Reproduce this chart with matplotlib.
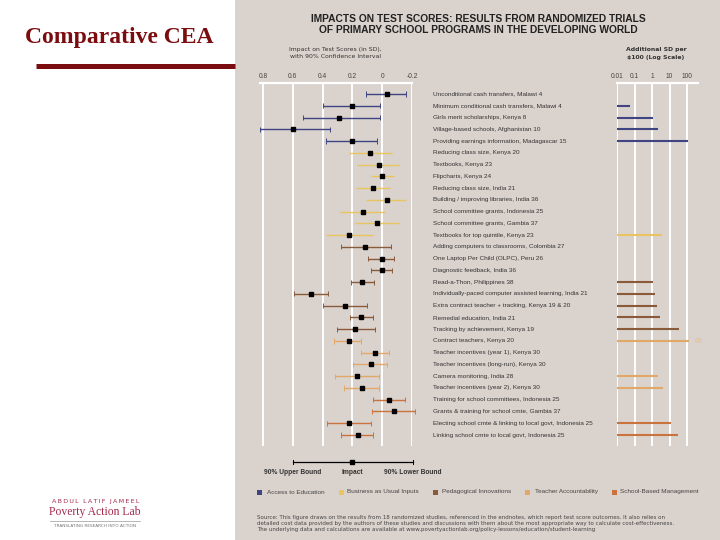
import matplotlib
matplotlib.use('Agg')
import matplotlib.pyplot as plt
from matplotlib.patches import Rectangle
from matplotlib.transforms import blended_transform_factory

# ---------------- data ----------------
programs = [
    "Unconditional cash transfers, Malawi 4",
    "Minimum conditional cash transfers, Malawi 4",
    "Girls merit scholarships, Kenya 8",
    "Village-based schools, Afghanistan 10",
    "Providing earnings information, Madagascar 15",
    "Reducing class size, Kenya 20",
    "Textbooks, Kenya 23",
    "Flipcharts, Kenya 24",
    "Reducing class size, India 21",
    "Building / improving libraries, India 36",
    "School committee grants, Indonesia 25",
    "School committee grants, Gambia 37",
    "Textbooks for top quintile, Kenya 23",
    "Adding computers to classrooms, Colombia 27",
    "One Laptop Per Child (OLPC), Peru 26",
    "Diagnostic feedback, India 36",
    "Read-a-Thon, Philippines 38",
    "Individually-paced computer assisted learning, India 21",
    "Extra contract teacher + tracking, Kenya 19 & 20",
    "Remedial education, India 21",
    "Tracking by achievement, Kenya 19",
    "Contract teachers, Kenya 20",
    "Teacher incentives (year 1), Kenya 30",
    "Teacher incentives (long-run), Kenya 30",
    "Camera monitoring, India 28",
    "Teacher incentives (year 2), Kenya 30",
    "Training for school committees, Indonesia 25",
    "Grants & training for school cmte, Gambia 37",
    "Electing school cmte & linking to local govt, Indonesia 25",
    "Linking school cmte to local govt, Indonesia 25",
]
impact = [-0.03, 0.205, 0.29, 0.60, 0.205, 0.082, 0.024, 0.002, 0.06, -0.034,
          0.131, 0.035, 0.225, 0.116, 0.004, 0.004, 0.136, 0.48, 0.247, 0.145,
          0.18, 0.223, 0.051, 0.078, 0.171, 0.134, -0.045, -0.078, 0.223, 0.16]
upper_bound = [0.11, 0.395, 0.53, 0.82, 0.377, 0.22, 0.167, 0.078, 0.176, 0.111,
               0.283, 0.183, 0.377, 0.278, 0.094, 0.078, 0.211, 0.59, 0.40, 0.214,
               0.30, 0.325, 0.145, 0.198, 0.314, 0.254, 0.064, 0.069, 0.37, 0.276]
lower_bound = [-0.16, 0.015, 0.015, 0.35, 0.033, -0.063, -0.114, -0.078, -0.051, -0.159,
               -0.018, -0.114, 0.064, -0.056, -0.078, -0.065, 0.053, 0.365, 0.10, 0.064,
               0.051, 0.14, -0.045, -0.034, 0.024, 0.024, -0.152, -0.221, 0.074, 0.06]
category = [0] * 5 + [1] * 8 + [2] * 8 + [3] * 5 + [4] * 4
# additional SD per $100 (None = not shown)
sd_per_100 = [None, 0.055, 1.1, 2.1, 110, None, None, None, None, None,
              None, None, 3.5, None, None, None, 1.1, 1.5, 1.9, 2.9,
              33, 130, None, None, 2.1, 4.4, None, None, 13, 31]
infinite_rows = [21]

categories = ["Access to Education", "Business as Usual Inputs", "Pedagogical Innovations",
              "Teacher Accountability", "School-Based Management"]
cat_colors = ["#3E4582", "#E8C55E", "#8A5B3A", "#E2A868", "#C9743F"]
cat_caps = [True, False, True, True, True]

impact_ticks = [0.8, 0.6, 0.4, 0.2, 0, -0.2]
impact_tick_labels = ["0.8", "0.6", "0.4", "0.2", "0", "-0.2"]
ce_ticks = [0.01, 0.1, 1, 10, 100]
ce_tick_labels = ["0.01", "0.1", "1", "10", "100"]

SANS = "Liberation Sans"
WIDE = "DejaVu Sans"
SERIF = "Liberation Serif"
TXT = "#333333"

# ---------------- figure ----------------
W, H = 720, 540
fig = plt.figure(figsize=(7.2, 5.4), dpi=100)
fig.patch.set_facecolor("white")


def box(x0, y0, x1, y1):
    return [x0 / W, 1 - y1 / H, (x1 - x0) / W, (y1 - y0) / H]


bg = fig.add_axes([0, 0, 1, 1])
bg.set_xlim(0, W)
bg.set_ylim(H, 0)
bg.axis("off")
bg.add_patch(Rectangle((235, 0), 485, 540, color="#DAD2CD", lw=0))

# slide title
bg.text(25, 38, "Comparative CEA", family=SERIF, fontweight="bold", fontsize=17,
        color="#7B0C10", va="center", ha="left")
bg.plot([36, 235], [66, 66], color="#7B0C10", lw=3.6, solid_capstyle="butt")

# logo
bg.text(96, 501, "\u2009".join("ABDUL LATIF JAMEEL"), family=WIDE, fontsize=4.6,
        color="#A3294C", ha="center", va="center")
bg.text(95, 512, "Poverty Action Lab", family=SERIF, fontsize=8.4,
        color="#A3294C", ha="center", va="center")
bg.plot([50, 140], [520.5, 520.5], color="#9A9A9A", lw=0.5)
bg.text(95, 526, "TRANSLATING RESEARCH INTO ACTION", family=WIDE, fontsize=3.1,
        color="#777777", ha="center", va="center")

# chart title
bg.text(478, 19, "IMPACTS ON TEST SCORES: RESULTS FROM RANDOMIZED TRIALS", family=SANS,
        fontweight="bold", fontsize=7.4, color="#222222", ha="center", va="center")
bg.text(478, 30, "OF PRIMARY SCHOOL PROGRAMS IN THE DEVELOPING WORLD", family=SANS,
        fontweight="bold", fontsize=7.4, color="#222222", ha="center", va="center")
bg.text(335, 49.5, "Impact on Test Scores (in SD),", family=WIDE, fontsize=4.4,
        color=TXT, ha="center", va="center")
bg.text(335, 57, "with 90% Confidence Interval", family=WIDE, fontsize=4.4,
        color=TXT, ha="center", va="center")
bg.text(656, 49.5, "Additional SD per", family=WIDE, fontsize=4.4, fontweight="bold",
        color=TXT, ha="center", va="center")
bg.text(656, 57, r"\$100 (Log Scale)", family=WIDE, fontsize=4.4, fontweight="bold",
        color=TXT, ha="center", va="center")

# ---------------- impact panel ----------------
n = len(programs)
rows = list(range(n))
ax = fig.add_axes(box(260, 83, 412, 446))
ax.set_facecolor("none")
ax.set_xlim(0.82, -0.2)
ax.set_ylim(n - 1 + 11 / 11.76, -11 / 11.76)
ax.set_xticks(impact_ticks)
ax.set_xticklabels(impact_tick_labels)
ax.xaxis.tick_top()
ax.tick_params(axis="x", length=0, pad=2.5, labelsize=4.8, labelcolor="#444444")
for lab in ax.get_xticklabels():
    lab.set_family(SANS)
ax.set_yticks([])
ax.grid(axis="x", color="white", lw=1.4)
ax.set_axisbelow(True)
for s in ["left", "right", "bottom"]:
    ax.spines[s].set_visible(False)
ax.spines["top"].set_color("white")
ax.spines["top"].set_linewidth(1.6)

for i in rows:
    c = cat_colors[category[i]]
    ax.hlines(i, lower_bound[i], upper_bound[i], color=c, lw=1.0, clip_on=False, zorder=2)
    if cat_caps[category[i]]:
        ax.vlines([lower_bound[i], upper_bound[i]], i - 0.22, i + 0.22, color=c, lw=0.7,
                  clip_on=False, zorder=2)
ax.plot(impact, rows, "s", color="black", ms=3.1, zorder=3, clip_on=False)

tr = blended_transform_factory(ax.transAxes, ax.transData)
for i, p in enumerate(programs):
    ax.text((433 - 260) / 152, i, p, transform=tr, family=SANS, fontsize=4.6,
            color=TXT, va="center", ha="left")

# ---------------- cost-effectiveness panel ----------------
ax2 = fig.add_axes(box(617, 83, 698, 446))
ax2.set_facecolor("none")
ax2.set_xscale("log")
ax2.set_xlim(0.01, 425)
ax2.set_ylim(n - 1 + 11 / 11.76, -11 / 11.76)
ax2.set_xticks(ce_ticks)
ax2.set_xticklabels(ce_tick_labels)
ax2.xaxis.set_minor_locator(matplotlib.ticker.NullLocator())
ax2.xaxis.tick_top()
ax2.tick_params(axis="x", length=0, pad=2.5, labelsize=4.8, labelcolor="#444444")
for lab in ax2.get_xticklabels():
    lab.set_family(SANS)
ax2.set_yticks([])
ax2.grid(axis="x", which="major", color="white", lw=1.4)
ax2.set_axisbelow(True)
for s in ["left", "right", "bottom"]:
    ax2.spines[s].set_visible(False)
ax2.spines["top"].set_color("white")
ax2.spines["top"].set_linewidth(1.6)

for i in rows:
    v = sd_per_100[i]
    if v is None:
        continue
    ax2.hlines(i, 0.01, v, color=cat_colors[category[i]], lw=1.5, zorder=2)
    if i in infinite_rows:
        ax2.text(1.0, i, "\u221e", transform=blended_transform_factory(ax2.transAxes, ax2.transData),
                 fontsize=8, color="#E6BE8A", ha="center", va="center", family=WIDE)

# ---------------- legends ----------------
bg.plot([293, 413], [462, 462], color="black", lw=0.9)
bg.plot([293, 293], [460, 464], color="black", lw=0.7)
bg.plot([413, 413], [460, 464], color="black", lw=0.7)
bg.plot([352], [462], "s", color="black", ms=3.1)
for x, t in [(293, "90% Upper Bound"), (352, "Impact"), (413, "90% Lower Bound")]:
    bg.text(x, 473, t, family=SANS, fontsize=4.8, color=TXT, ha="center", va="center",
            fontweight="bold")

leg_sq_x = [257, 339, 433, 525, 612]
leg_tx_x = [267, 347, 442, 535, 620]
for k, name in enumerate(categories):
    bg.add_patch(Rectangle((leg_sq_x[k], 489.5), 5, 5, color=cat_colors[k], lw=0))
    bg.text(leg_tx_x[k], 492, name, family=SANS, fontsize=4.6, color="#444444",
            ha="left", va="center")

source = [
    "Source: This figure draws on the results from 18 randomized studies, referenced in the endnotes, which report test score outcomes. It also relies on",
    "detailed cost data provided by the authors of these studies and discussions with them about the most appropriate way to calculate cost-effectiveness.",
    "The underlying data and calculations are available at www.povertyactionlab.org/policy-lessons/education/student-learning",
]
for k, line in enumerate(source):
    bg.text(257, 518 + 6 * k, line, family=WIDE, fontsize=4.0, color="#444444",
            ha="left", va="center")

fig.savefig("out.png", dpi=100)
